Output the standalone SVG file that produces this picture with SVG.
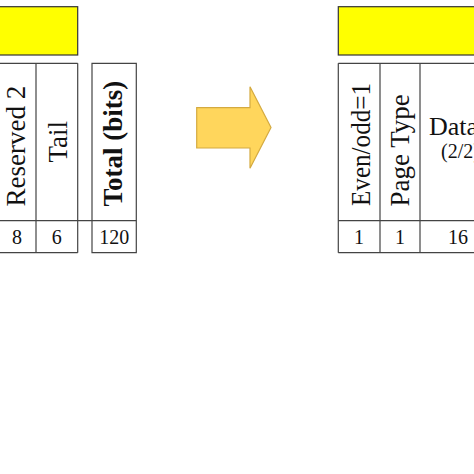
<svg xmlns="http://www.w3.org/2000/svg" width="474" height="474" viewBox="0 0 474 474">
<style>
.ln{stroke:#444;stroke-width:1.2;fill:none}
.hdr{fill:#FFFF00;stroke:#333;stroke-width:1.2}
.t{font-family:"Liberation Serif","Times New Roman",serif;fill:#111}
.rot{font-size:27px}
.num{font-size:20px;text-anchor:middle}
</style>
<rect width="474" height="474" fill="#fff"/>
<g id="left-header"><rect class="hdr" x="-2" y="6.7" width="79.7" height="48.3"/></g>
<g id="right-header"><rect class="hdr" x="338.3" y="6.7" width="140" height="48.3"/></g>
<g id="left-table">
<path class="ln" d="M0 63.3H77.7M36 63.3V252.7M77.7 63.3V252.7M0 220.7H136.3M0 252.7H77.7"/>
<text class="t rot" transform="translate(25,206.5) rotate(-90)">Reserved 2</text>
<text class="t rot" text-anchor="middle" transform="translate(66.7,141.7) rotate(-90)">Tail</text>
<text class="t num" x="17" y="243.5">8</text>
<text class="t num" x="56.8" y="243.5">6</text>
</g>
<g id="total">
<path class="ln" d="M92 63.3H136.3V252.7H92Z"/>
<text class="t rot" font-weight="bold" transform="translate(121.7,206.5) rotate(-90)">Total (bits)</text>
<text class="t num" x="114.2" y="243.5">120</text>
</g>
<g id="connectors">
<polygon points="196.7,107.7 250,107.7 250,86.7 271,127.5 250,168.3 250,148 196.7,148" fill="#FFD65C" stroke="#D4AA40" stroke-width="1.2"/>
</g>
<g id="right-table">
<path class="ln" d="M338.3 63.3H480M338.3 220.7H480M338.3 252.7H480M338.3 63.3V252.7M380 63.3V252.7M420 63.3V252.7"/>
<text class="t rot" textLength="123" lengthAdjust="spacingAndGlyphs" transform="translate(369.5,206) rotate(-90)">Even/odd=1</text>
<text class="t rot" transform="translate(408.5,206.5) rotate(-90)">Page Type</text>
<text class="t" font-size="26" x="429" y="134.5">Data</text>
<text class="t" font-size="20" x="441" y="158">(2/2)</text>
<text class="t num" x="359" y="243.5">1</text>
<text class="t num" x="400" y="243.5">1</text>
<text class="t num" x="458" y="243.5">16</text>
</g>
</svg>
